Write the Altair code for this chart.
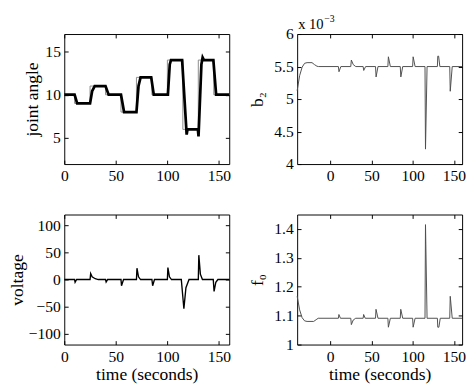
import altair as alt
import pandas as pd

FONT = "Liberation Serif"
W, H = 170, 134

# ---- Panel 1: joint angle (reference steps + measured response) ----
step_times = [0, 10, 25, 40, 55, 70, 85, 100, 115, 130, 145, 160]
step_levels = [10, 9, 11, 10, 8, 12, 10, 14, 6, 14, 10, 10]
angle_t = [0, 10, 12.5, 25, 27, 29.5, 40, 43, 55, 58, 70, 72, 74, 84.3, 86.8, 100.5, 102.3, 103.5,
           114.3, 118.7, 119.5, 129.6, 130.2, 133, 134.2, 135.5, 144.6, 147.3, 160]
angle_v = [10, 10, 9, 9, 10.4, 11, 11, 10, 10, 8, 8, 11, 12, 12, 10, 10, 13.5, 14,
           14, 5.4, 6, 6, 5.2, 13.5, 14.3, 14, 14, 10, 10]

# ---- Panel 2: b2 (x 10^-3) ----
b2_t = [-40, -37, -34, -31, -28, -22, -19, -16, -14, 10, 10.7, 13, 25, 25.7, 28, 31,
        40, 40.7, 43, 55, 55.7, 58, 70, 70.6, 73, 85, 85.7, 88, 100, 100.6, 103,
        115, 115.6, 117.5, 130, 130.5, 131.5, 133, 145, 145.6, 148, 160]
b2_v = [5.13, 5.36, 5.49, 5.55, 5.56, 5.56, 5.53, 5.505, 5.5, 5.5, 5.42, 5.5, 5.5, 5.6, 5.53, 5.5,
        5.5, 5.44, 5.5, 5.5, 5.34, 5.5, 5.5, 5.65, 5.5, 5.5, 5.34, 5.5, 5.5, 5.65, 5.5,
        5.5, 4.23, 5.5, 5.5, 5.66, 5.66, 5.5, 5.5, 5.12, 5.5, 5.5]

# ---- Panel 3: voltage ----
volt_t = [0, 10, 10.5, 12, 25, 25.6, 27, 30, 33, 40, 40.6, 42, 55, 55.5, 57.5,
          70, 70.5, 72, 74, 85, 85.7, 87.5, 100, 100.5, 102, 104,
          113.5, 116, 118, 121, 130, 130.5, 132, 134, 144.5, 145.3, 147, 149, 160]
volt_v = [0, 0, -5, 0, 0, 11, 5, 1.5, 0, 0, -4.5, 0, 0, -11.5, 0,
          0, 21, 5, 0, 0, -11.5, 0, 0, 22, 5, 0,
          0, -54, -15, 0, 0, 45, 10, 0, 0, -22, -5, 0, 0]

# ---- Panel 4: f0 ----
f0_t = [-40, -37, -34, -31, -28, -20, -17, -14.5, 10, 10.6, 12.5, 25, 25.7, 28, 31,
        40, 40.6, 42.5, 55, 55.6, 58, 70, 70.6, 73, 85, 85.6, 88, 100, 100.6, 103,
        115, 115.6, 117.5, 130, 130.5, 131.8, 133.5, 145, 145.6, 148, 160]
f0_v = [1.167, 1.12, 1.093, 1.082, 1.08, 1.08, 1.086, 1.091, 1.091, 1.104, 1.091, 1.091, 1.069, 1.085, 1.091,
        1.091, 1.104, 1.091, 1.091, 1.122, 1.091, 1.091, 1.06, 1.091, 1.091, 1.122, 1.091, 1.091, 1.06, 1.091,
        1.091, 1.415, 1.091, 1.091, 1.06, 1.06, 1.091, 1.091, 1.167, 1.091, 1.091]

mult_label = ["x 10"]
mult_exp = ["\u22123"]

LBL = dict(labelFont=FONT, labelFontSize=16, labelColor="black")
TTL = dict(titleFont=FONT, titleFontSize=18, titleFontWeight="normal", titleColor="black")


def x_axis(ticks, title=None):
    return alt.Axis(orient="bottom", values=ticks, offset=-4, tickSize=4, tickColor="black",
                    domain=False, grid=False, labelPadding=4, labelFlush=False,
                    labelOverlap=False, title=title, titlePadding=2, **LBL, **TTL)


def y_axis(ticks, title, tpad, fmt=None):
    kw = dict(orient="left", values=ticks, offset=-4, tickSize=4, tickColor="black",
              domain=False, grid=False, labelPadding=4, labelFlush=False,
              labelOverlap=False, title=title, titlePadding=tpad, **LBL, **TTL)
    if fmt:
        kw["format"] = fmt
    return alt.Axis(**kw)


def x_top(ticks):
    return alt.Axis(orient="top", values=ticks, offset=-4, tickSize=4, tickColor="black",
                    domain=False, grid=False, labels=False, title=None)


def y_right(ticks):
    return alt.Axis(orient="right", values=ticks, offset=-4, tickSize=4, tickColor="black",
                    domain=False, grid=False, labels=False, title=None)


def tick_layer(df, xs, ys, xt, yt):
    return alt.Chart(df).mark_line(opacity=0).encode(
        x=alt.X("t:Q", scale=xs, axis=x_top(xt)),
        y=alt.Y("v:Q", scale=ys, axis=y_right(yt)),
    )


xt = [0, 50, 100, 150]

# Panel 1
xs1 = alt.Scale(domain=[0, 160], nice=False, zero=False)
ys1 = alt.Scale(domain=[2, 17], nice=False, zero=False)
df_ref = pd.DataFrame({"t": step_times, "v": step_levels})
df_ang = pd.DataFrame({"t": angle_t, "v": angle_v})
yt1 = [5, 10, 15]
ref = alt.Chart(df_ref).mark_line(interpolate="step-after", color="#8a8a8a", strokeWidth=1).encode(
    x=alt.X("t:Q", scale=xs1, axis=x_axis(xt)),
    y=alt.Y("v:Q", scale=ys1, axis=y_axis(yt1, "joint angle", 4)),
)
act = alt.Chart(df_ang).mark_line(color="black", strokeWidth=2.8).encode(
    x=alt.X("t:Q", scale=xs1, axis=None),
    y=alt.Y("v:Q", scale=ys1, axis=None),
)
tl = alt.layer(ref, act, tick_layer(df_ang, xs1, ys1, xt, yt1)).resolve_axis(
    x="independent", y="independent").properties(width=W, height=H)

# Panel 2
xs2 = alt.Scale(domain=[-40, 160], nice=False, zero=False)
ys2 = alt.Scale(domain=[4, 6], nice=False, zero=False)
df_b2 = pd.DataFrame({"t": b2_t, "v": b2_v})
yt2 = [4, 4.5, 5, 5.5, 6]
b2 = alt.Chart(df_b2).mark_line(color="#4d4d4d", strokeWidth=1).encode(
    x=alt.X("t:Q", scale=xs2, axis=x_axis(xt)),
    y=alt.Y("v:Q", scale=ys2, axis=y_axis(yt2, "b\u2082", 8, ".1~f")),
)
df_mult = pd.DataFrame({"label": mult_label, "exp": mult_exp})
mult1 = alt.Chart(df_mult).mark_text(align="left", baseline="alphabetic", font=FONT,
                                     fontSize=15, color="black").encode(
    x=alt.value(1), y=alt.value(-5), text="label:N")
mult2 = alt.Chart(df_mult).mark_text(align="left", baseline="alphabetic", font=FONT,
                                     fontSize=10, color="black").encode(
    x=alt.value(28), y=alt.value(-12), text="exp:N")
tr = alt.layer(b2, tick_layer(df_b2, xs2, ys2, xt, yt2), mult1, mult2).resolve_axis(
    x="independent", y="independent").properties(width=W, height=H)

# Panel 3
ys3 = alt.Scale(domain=[-120, 120], nice=False, zero=False)
df_v = pd.DataFrame({"t": volt_t, "v": volt_v})
yt3 = [-100, -50, 0, 50, 100]
volt = alt.Chart(df_v).mark_line(color="black", strokeWidth=1.4).encode(
    x=alt.X("t:Q", scale=xs1, axis=x_axis(xt, "time (seconds)")),
    y=alt.Y("v:Q", scale=ys3, axis=y_axis(yt3, "voltage", 2)),
)
bl = alt.layer(volt, tick_layer(df_v, xs1, ys3, xt, yt3)).resolve_axis(
    x="independent", y="independent").properties(width=W, height=H)

# Panel 4
ys4 = alt.Scale(domain=[1, 1.45], nice=False, zero=False)
df_f = pd.DataFrame({"t": f0_t, "v": f0_v})
yt4 = [1, 1.1, 1.2, 1.3, 1.4]
f0 = alt.Chart(df_f).mark_line(color="#4d4d4d", strokeWidth=1).encode(
    x=alt.X("t:Q", scale=xs2, axis=x_axis(xt, "time (seconds)")),
    y=alt.Y("v:Q", scale=ys4, axis=y_axis(yt4, "f\u2080", 8, ".1~f")),
)
br = alt.layer(f0, tick_layer(df_f, xs2, ys4, xt, yt4)).resolve_axis(
    x="independent", y="independent").properties(width=W, height=H)

chart = alt.concat(tl, tr, bl, br, columns=2, spacing={"row": 30, "column": 12}).properties(
    padding={"left": 0, "top": 0, "right": 0, "bottom": 0}
).configure_view(stroke="black", strokeWidth=1)

chart.save("out.html", embed_options={"renderer": "svg", "actions": False})
